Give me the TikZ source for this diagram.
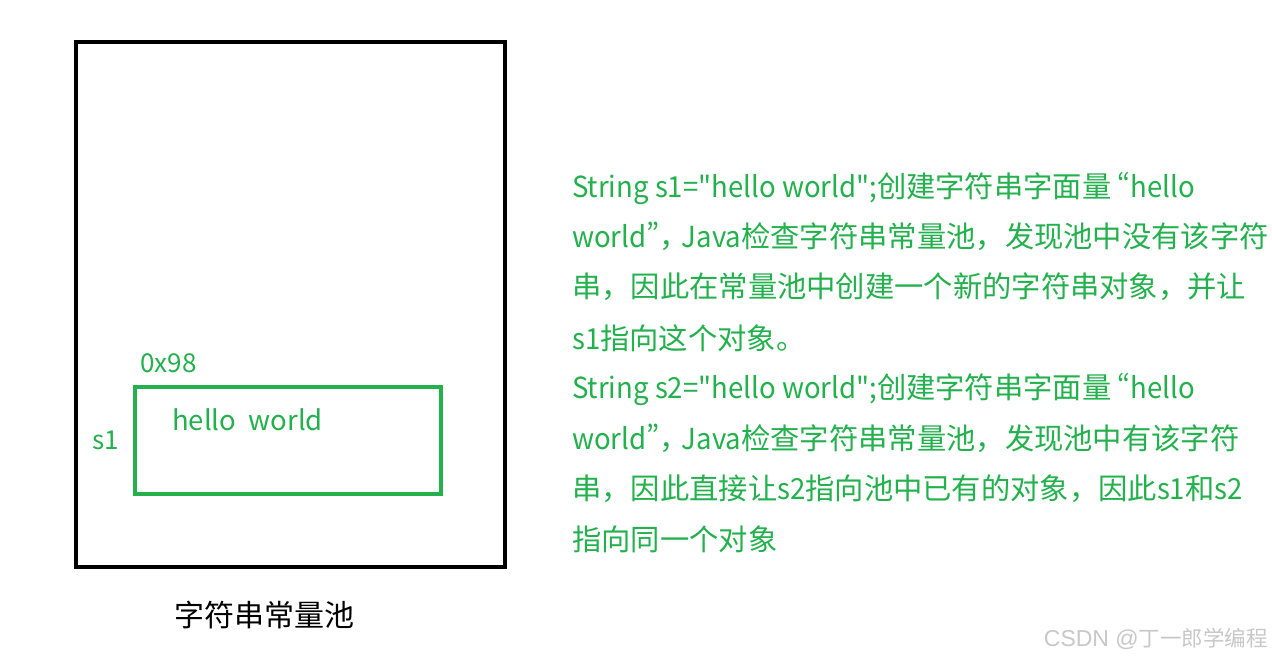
\documentclass[tikz,border=0pt]{standalone}
\usepackage{fontspec}
\setmainfont{Noto Sans CJK SC}
\newfontfamily\cjk{Noto Sans CJK SC}
\newfontfamily\latf[FakeStretch=0.95,RawFeature=+pwid]{Noto Sans CJK SC}
\newfontfamily\wmlat{Liberation Sans}
\newcommand{\LT}[1]{{\latf\fontsize{29}{29}\selectfont #1}}
\definecolor{pgreen}{HTML}{22B14C}
\definecolor{wmgray}{HTML}{C8C8C8}
\begin{document}
\begin{tikzpicture}[x=1pt,y=-1pt,
  gtext/.style={text=pgreen,font=\cjk\fontsize{29.3}{29.3}\selectfont,inner sep=0pt,anchor=base west},
  boxlbl/.style={text=pgreen,font=\cjk\fontsize{26}{26}\selectfont,inner sep=0pt,anchor=base west},
  poolframe/.style={draw=black,line width=4pt},
  objframe/.style={draw=pgreen,line width=4pt}]
\useasboundingbox[fill=white] (0,0) rectangle (1272,660);
% string pool
\draw[poolframe] (76,42) rectangle (505,567);
\node[objframe,minimum width=306pt,minimum height=107pt,inner sep=0pt,anchor=north west] (obj) at (133,385) {};
\node[boxlbl] (addr) at (140,373) {0x98};
\node[boxlbl,font=\cjk\fontsize{27.5}{27.5}\selectfont] (hw) at (172,430) {hello\ \ world};
\node[boxlbl] (s1) at (92,449) {s1};
\node[inner sep=0pt,anchor=base,font=\cjk\fontsize{30}{30}\selectfont] (cap) at (264,626) {字符串常量池};
% explanation
\node[gtext] (l1) at (572,198) {\LT{String s1="hello world";}创建字符串字面量\LT{ “hello}};
\node[gtext] (l2) at (572,248) {\LT{world”}，\kern-7pt\LT{Java}检查字符串常量池，发现池中没有该字符};
\node[gtext] (l3) at (572,298) {串，因此在常量池中创建一个新的字符串对象，并让};
\node[gtext] (l4) at (572,349) {\LT{s1}指向这个对象。};
\node[gtext] (l5) at (572,399) {\LT{String s2="hello world";}创建字符串字面量\LT{ “hello}};
\node[gtext] (l6) at (572,449) {\LT{world”}，\kern-7pt\LT{Java}检查字符串常量池，发现池中有该字符};
\node[gtext] (l7) at (572,499) {串，因此直接让\LT{s2}指向池中已有的对象，因此\LT{s1}和\LT{s2}};
\node[gtext] (l8) at (572,550) {指向同一个对象};
% watermark
\node[inner sep=0pt,anchor=base east,text=wmgray,font=\cjk\fontsize{21.5}{21.5}\selectfont] (wm) at (1268,646) {{\wmlat\fontsize{23}{23}\selectfont CSDN @}丁一郎学编程};
\end{tikzpicture}
\end{document}
